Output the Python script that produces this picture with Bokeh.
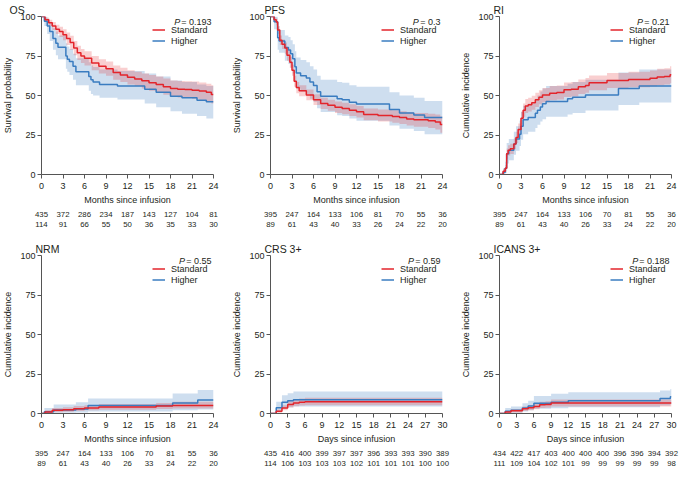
from bokeh.plotting import figure
from bokeh.models import Range1d, FixedTicker, Legend, LegendItem, Label, LinearAxis
from bokeh.layouts import row, column
from bokeh.embed import file_html
from bokeh.resources import INLINE

FONT = "Liberation Sans"
RED = "#e3242b"
BLUE = "#3a7cc0"
TXT = "#231f20"
AXC = "#555555"

# ---------------- data ----------------
month_ticks = [0, 3, 6, 9, 12, 15, 18, 21, 24]
day_ticks = [0, 3, 6, 9, 12, 15, 18, 21, 24, 27, 30]
y_ticks = [0, 25, 50, 75, 100]

# OS
os_std_t = [0, 0.5, 1, 1.5, 2, 2.5, 3, 3.5, 4, 4.5, 5, 5.5, 6, 7, 8, 9, 10, 11, 12, 13, 14, 15, 16, 17, 18, 19, 20, 21, 22, 23, 23.7]
os_std_s = [100, 98, 96, 94, 92, 90.5, 88.5, 86, 83.5, 80, 77, 75, 73.5, 70.5, 68.5, 67, 64.5, 63, 61.5, 60.5, 59.3, 58, 57, 55.6, 54.4, 54, 53.8, 53.4, 52.8, 52, 50.7]
os_std_lo = [100, 96.5, 94, 91.5, 89, 87, 85, 82, 79, 75.5, 72.5, 70.5, 69, 66, 64, 62.5, 60, 58.5, 57, 56, 54.5, 53, 52, 50.5, 49.3, 48.8, 48.5, 48, 47.3, 46.5, 45]
os_std_hi = [100, 99.3, 98, 96.5, 94.8, 93.5, 92, 89.8, 87.8, 84.5, 81.5, 79.5, 78, 75, 73, 71.5, 69, 67.5, 66, 65, 64, 63, 62, 60.8, 59.5, 59.2, 59, 58.8, 58.2, 57.5, 56.5]
os_hi_t = [0, 0.4, 0.8, 1.15, 1.6, 2.0, 2.3, 3.4, 3.6, 3.9, 4.4, 4.8, 6.6, 6.9, 7.2, 8.1, 10.6, 14.4, 16, 18, 19.6, 21.7, 23]
os_hi_s = [100, 97, 94, 90.5, 86, 83, 80.5, 75, 73, 71.5, 68.5, 65, 62, 60, 58.5, 57, 56, 54, 52, 49.6, 48.5, 47, 46]
os_hi_lo = [100, 94, 89, 84.5, 79, 75.5, 73, 67, 65, 63, 60, 56.5, 53, 51, 50, 48.5, 47.5, 45, 42.5, 40, 38.5, 37, 35.5]
os_hi_hi = [100, 99.8, 98.5, 96, 92.5, 90.5, 88, 83, 81, 79.5, 76.5, 73.5, 71, 69, 68, 66.5, 65.5, 64, 62, 59.5, 58.5, 57, 56]
os_risk_std = [435, 372, 286, 234, 187, 143, 127, 104, 81]
os_risk_hi = [114, 91, 66, 55, 50, 36, 35, 33, 30]

# PFS
pfs_std_t = [0, 0.5, 0.8, 1.0, 1.3, 1.6, 2.0, 2.3, 2.7, 3.0, 3.3, 3.6, 4, 5, 6, 7, 8, 9, 10, 11, 12, 13, 15, 17, 18, 19, 20, 22, 23, 23.7]
pfs_std_s = [100, 98, 96.5, 91.5, 85, 82.5, 80, 75.5, 71, 66, 59, 55, 53, 50.3, 47.3, 45, 43.8, 42.6, 41.8, 40.7, 39.7, 38, 37.3, 36.7, 36, 35.2, 34.6, 34, 33.2, 31.6]
pfs_std_lo = [100, 96.5, 94.5, 89, 82, 79.5, 76.5, 72, 67.5, 62.5, 55.5, 51.5, 49.5, 47, 44, 41.5, 40.3, 39, 38.2, 37, 36, 34.3, 33.5, 32.8, 32, 31, 30.3, 29.5, 28.5, 26.5]
pfs_std_hi = [100, 99.5, 98.5, 94, 88, 85.5, 83.5, 79, 74.5, 69.5, 62.5, 58.5, 56.5, 53.8, 50.8, 48.5, 47.3, 46.2, 45.4, 44.4, 43.4, 41.7, 41.1, 40.6, 40, 39.4, 38.9, 38.5, 37.9, 36.7]
pfs_hi_t = [0, 0.5, 1.0, 1.2, 2.0, 2.5, 2.8, 3.1, 3.4, 3.6, 4.2, 5.0, 5.5, 6.0, 6.5, 7.0, 9.3, 10.0, 11.0, 12.0, 16.6, 18.0, 20.0, 21.5]
pfs_hi_s = [100, 96.7, 86.6, 84.5, 80.4, 78.8, 76.4, 73.3, 68.2, 64.2, 62.5, 61, 58.5, 56.4, 52.3, 49.5, 47.9, 47.3, 45.8, 44.6, 41.1, 39, 37.7, 36]
pfs_hi_lo = [100, 92, 79, 77, 72, 70, 67.5, 64, 58.5, 54.5, 52.5, 51, 48, 46, 42, 39.5, 37.5, 37, 35.5, 34, 31, 29, 27.5, 25.5]
pfs_hi_hi = [100, 99.8, 93.5, 91.5, 88, 87, 85, 82.5, 78, 74, 72.5, 71, 68.5, 66.5, 62.5, 60, 58.5, 58, 56.5, 55.5, 52, 50, 48.5, 46.5]
pfs_risk_std = [395, 247, 164, 133, 106, 81, 70, 55, 36]
pfs_risk_hi = [89, 61, 43, 40, 33, 26, 24, 22, 20]

# RI
ri_std_t = [0, 0.5, 0.8, 1.0, 1.2, 1.5, 2.0, 2.3, 2.6, 3.0, 3.3, 3.6, 4.0, 4.5, 5.0, 5.5, 6.0, 7.0, 8.0, 9.0, 10.0, 11.0, 12.0, 12.5, 15.0, 18.0, 21.0, 22.0, 23.0, 23.8]
ri_std_s = [0, 2, 4, 13.2, 15.3, 16.3, 19.3, 23.4, 28.5, 35.6, 40.7, 43.4, 44.2, 45.4, 47.3, 48.9, 50.3, 51.5, 51.9, 53.6, 54, 55.6, 56.4, 58, 59.5, 60.1, 60.9, 61.7, 62.1, 63.1]
ri_std_lo = [0, 0.5, 2, 10, 12, 13, 16, 20, 25, 31.5, 36.5, 39, 39.8, 41, 42.8, 44.4, 45.8, 47, 47.4, 49, 49.4, 51, 51.8, 53.3, 54.7, 55.2, 55.8, 56.5, 56.9, 57.7]
ri_std_hi = [0, 3.5, 6, 16.5, 18.5, 19.5, 22.8, 27, 32.2, 39.8, 45, 47.8, 48.6, 49.8, 51.8, 53.4, 54.8, 56, 56.4, 58.2, 58.6, 60.2, 61, 62.7, 64.3, 65, 65.9, 66.9, 67.3, 68.5]
ri_hi_t = [0, 0.5, 0.8, 1.0, 1.3, 2.0, 2.3, 2.8, 3.0, 3.3, 4.0, 5.0, 5.3, 5.7, 6.0, 6.5, 9.5, 10.2, 12.0, 16.6, 19.5]
ri_hi_s = [0, 1.4, 4, 13.2, 15.3, 19.3, 22.4, 25.5, 30.5, 34.6, 36, 38.7, 40.7, 42.8, 44.8, 46.2, 47.9, 48.9, 50.3, 54.4, 56]
ri_hi_lo = [0, 0, 1, 7, 9, 12.5, 15, 18, 22, 25.5, 27, 29.5, 31.5, 33.5, 35, 36.5, 38, 39, 40.5, 44, 45.5]
ri_hi_hi = [0, 4, 8, 20, 22.5, 27, 30.5, 34, 39.5, 43.5, 45, 48, 50, 52.5, 54.5, 56, 57.5, 58.5, 60, 64.5, 66.5]
ri_risk_std = [395, 247, 164, 133, 106, 70, 81, 55, 36]
ri_risk_hi = [89, 61, 43, 40, 26, 33, 24, 22, 20]

# NRM
nrm_std_t = [0, 0.5, 1.5, 3.0, 4.5, 6.0, 8.0, 16.0, 18.3]
nrm_std_s = [0, 1, 2, 2.4, 3, 3.5, 4.1, 4.7, 5.1]
nrm_std_lo = [0, 0.2, 0.8, 1.1, 1.6, 2, 2.4, 2.9, 3.1]
nrm_std_hi = [0, 2, 3.5, 4, 4.8, 5.3, 6, 6.7, 7.4]
nrm_hi_t = [0, 0.4, 1.7, 4.8, 6.5, 18.3, 21.8]
nrm_hi_s = [0, 1.1, 2.2, 2.8, 5.1, 6.7, 8.5]
nrm_hi_lo = [0, 0, 0.4, 0.7, 1.3, 2, 2.5]
nrm_hi_hi = [0, 3.5, 5.7, 7.1, 9.5, 12.6, 14.8]
nrm_risk_std = [395, 247, 164, 133, 106, 70, 81, 55, 36]
nrm_risk_hi = [89, 61, 43, 40, 26, 33, 24, 22, 20]

# CRS 3+
crs_std_t = [0, 1, 2, 3, 4, 5, 6]
crs_std_s = [0, 1.4, 3.5, 5.7, 6.7, 7.1, 7.5]
crs_std_lo = [0, 0.5, 2, 3.8, 4.6, 5, 5.3]
crs_std_hi = [0, 2.5, 5.3, 7.9, 9.1, 9.5, 10]
crs_hi_t = [0, 1, 2, 3, 4]
crs_hi_s = [0, 3.7, 7.1, 8.1, 8.7]
crs_hi_lo = [0, 1, 3.3, 4, 4.5]
crs_hi_hi = [0, 7.5, 11.6, 12.8, 14]
crs_risk_std = [435, 416, 400, 399, 397, 397, 396, 393, 393, 390, 389]
crs_risk_hi = [114, 106, 103, 103, 103, 102, 101, 101, 101, 100, 100]

# ICANS 3+
icans_std_t = [0, 1, 2, 4, 5, 6, 7, 8, 9]
icans_std_s = [0, 1, 1.8, 3, 3.7, 4.5, 5.5, 5.7, 6.7]
icans_std_lo = [0, 0.2, 0.7, 1.6, 2.1, 2.7, 3.5, 3.7, 4.5]
icans_std_hi = [0, 1.8, 2.9, 4.4, 5.3, 6.3, 7.5, 7.7, 8.9]
icans_hi_t = [0, 1, 2, 4, 5, 6, 9, 12, 28, 29.8]
icans_hi_s = [0, 1.4, 2, 3.5, 4.7, 6.5, 7.1, 8.1, 9.5, 10.6]
icans_hi_lo = [0, 0.2, 0.5, 1.2, 2, 3, 3.4, 4, 5, 5.8]
icans_hi_hi = [0, 3.5, 4.5, 6.5, 8, 11, 12.5, 13.4, 14.6, 15.5]
icans_risk_std = [434, 422, 417, 403, 400, 400, 400, 396, 396, 394, 392]
icans_risk_hi = [111, 109, 104, 102, 101, 99, 99, 99, 99, 99, 98]

# ---------------- layout constants ----------------
FW, FH = 172, 158
FS = "9px"
RFS = "7.8px"

_W = {" ": 0.278, ".": 0.278, "=": 0.584}


def text_w(s, px):
    return sum(_W.get(c, 0.556) for c in s) * px


def add_curve(p, t, s, lo, hi, xmax, color, alpha):
    x = list(t) + [xmax]
    p.varea_step(x=x, y1=list(lo) + [lo[-1]], y2=list(hi) + [hi[-1]], step_mode="after",
                 fill_color=color, fill_alpha=alpha)
    return x, list(s) + [s[-1]]


def panel(title, ylab, xlab, xmax, xticks, std, hig, pval, risk_std, risk_hi, lb, rb, tb, toff):
    p = figure(frame_width=FW, frame_height=FH, x_range=Range1d(0, xmax), y_range=Range1d(0, 100),
               output_backend="svg", toolbar_location=None, title=title,
               min_border_left=lb, min_border_right=rb, min_border_top=tb, min_border_bottom=0,
               outline_line_color=None)
    p.title.text_font = FONT
    p.title.text_font_size = "10.5px"
    p.title.text_font_style = "normal"
    p.title.text_color = TXT
    p.title.align = "left"
    p.title.offset = toff
    p.title.standoff = 2
    p.xgrid.visible = False
    p.ygrid.visible = False
    p.xaxis.ticker = FixedTicker(ticks=xticks)
    p.yaxis.ticker = FixedTicker(ticks=y_ticks)
    p.xaxis.axis_label = xlab
    p.yaxis.axis_label = ylab
    for ax in (p.xaxis[0], p.yaxis[0]):
        ax.axis_line_color = AXC
        ax.major_tick_line_color = AXC
        ax.minor_tick_line_color = None
        ax.major_tick_in = 0
        ax.major_tick_out = 4
        ax.major_label_text_font = FONT
        ax.major_label_text_font_size = FS
        ax.major_label_text_color = TXT
        ax.axis_label_text_font = FONT
        ax.axis_label_text_font_size = FS
        ax.axis_label_text_font_style = "normal"
        ax.axis_label_text_color = TXT
    p.xaxis[0].major_label_standoff = 4
    p.xaxis[0].axis_label_standoff = 3
    p.yaxis[0].major_label_standoff = 2
    p.yaxis[0].axis_label_standoff = 4

    # number-at-risk table as two label-only axes below the x axis
    for vals, sd in ((risk_std, 4), (risk_hi, 2)):
        ra = LinearAxis(ticker=FixedTicker(ticks=xticks),
                        major_label_overrides={k: str(v) for k, v in zip(xticks, vals)})
        ra.axis_line_color = None
        ra.major_tick_line_color = None
        ra.minor_tick_line_color = None
        ra.major_tick_in = 0
        ra.major_tick_out = 0
        ra.major_label_standoff = sd
        ra.major_label_text_font = FONT
        ra.major_label_text_font_size = RFS
        ra.major_label_text_color = TXT
        p.add_layout(ra, "below")

    bx, by = add_curve(p, *hig, xmax, BLUE, 0.25)
    rx, ry = add_curve(p, *std, xmax, RED, 0.22)
    r_blue = p.step(x=bx, y=by, mode="after", line_color=BLUE, line_width=1.5)
    r_red = p.step(x=rx, y=ry, mode="after", line_color=RED, line_width=1.5)

    leg = Legend(items=[LegendItem(label="Standard", renderers=[r_red]),
                        LegendItem(label="Higher", renderers=[r_blue])],
                 location=(FW - 61, FH - 30))
    leg.label_text_font = FONT
    leg.label_text_font_size = FS
    leg.label_text_color = TXT
    leg.glyph_width = 13
    leg.glyph_height = 11
    leg.label_height = 11
    leg.label_standoff = 6
    leg.spacing = 0
    leg.padding = 0
    leg.margin = 0
    leg.border_line_color = None
    leg.background_fill_alpha = 0
    p.add_layout(leg)

    px_unit = xmax / FW
    py_unit = 100 / FH
    vtxt = "= " + pval
    xr = xmax - 2 * px_unit
    yp = 100 - 5 * py_unit
    p.add_layout(Label(x=xr, y=yp, text=vtxt, text_align="right", text_baseline="middle",
                       text_font=FONT, text_font_size=FS, text_color=TXT))
    p.add_layout(Label(x=xr - (text_w(vtxt, 8.6) + 2.4) * px_unit, y=yp, text="P",
                       text_align="right", text_baseline="middle", text_font=FONT,
                       text_font_size=FS, text_font_style="italic", text_color=TXT))
    return p


MO = "Months since infusion"
DA = "Days since infusion"
SP = "Survival probability"
CI = "Cumulative incidence"

p1 = panel("OS", SP, MO, 24, month_ticks, (os_std_t, os_std_s, os_std_lo, os_std_hi),
           (os_hi_t, os_hi_s, os_hi_lo, os_hi_hi), "0.193", os_risk_std, os_risk_hi, 33, 16, 15, -32)
p2 = panel("PFS", SP, MO, 24, month_ticks, (pfs_std_t, pfs_std_s, pfs_std_lo, pfs_std_hi),
           (pfs_hi_t, pfs_hi_s, pfs_hi_lo, pfs_hi_hi), "0.3", pfs_risk_std, pfs_risk_hi, 40, 16, 15, -6)
p3 = panel("RI", CI, MO, 24, month_ticks, (ri_std_t, ri_std_s, ri_std_lo, ri_std_hi),
           (ri_hi_t, ri_hi_s, ri_hi_lo, ri_hi_hi), "0.21", ri_risk_std, ri_risk_hi, 40, 8, 15, -6)
p4 = panel("NRM", CI, MO, 24, month_ticks, (nrm_std_t, nrm_std_s, nrm_std_lo, nrm_std_hi),
           (nrm_hi_t, nrm_hi_s, nrm_hi_lo, nrm_hi_hi), "0.55", nrm_risk_std, nrm_risk_hi, 33, 16, 26, -6)
p5 = panel("CRS 3+", CI, DA, 30, day_ticks, (crs_std_t, crs_std_s, crs_std_lo, crs_std_hi),
           (crs_hi_t, crs_hi_s, crs_hi_lo, crs_hi_hi), "0.59", crs_risk_std, crs_risk_hi, 40, 16, 26, -6)
p6 = panel("ICANS 3+", CI, DA, 30, day_ticks, (icans_std_t, icans_std_s, icans_std_lo, icans_std_hi),
           (icans_hi_t, icans_hi_s, icans_hi_lo, icans_hi_hi), "0.188", icans_risk_std, icans_risk_hi, 40, 8, 26, -6)

layout = column(row(p1, p2, p3, spacing=0), row(p4, p5, p6, spacing=0), spacing=0)
open("out.html", "w").write(file_html(layout, INLINE))
